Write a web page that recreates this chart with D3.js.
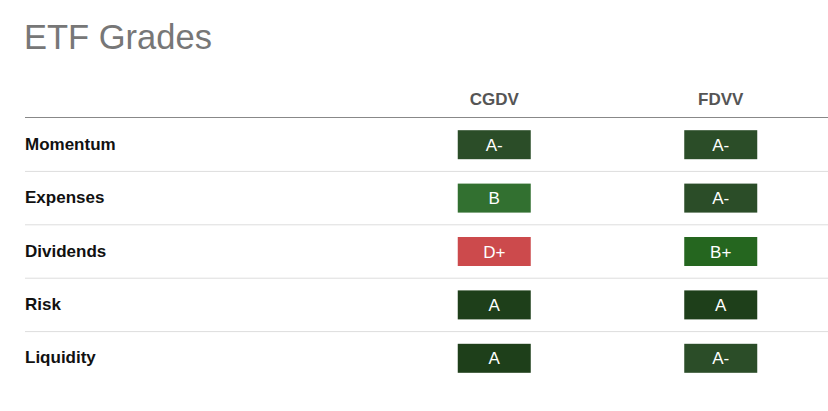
<!DOCTYPE html><html><head><script src="https://cdn.jsdelivr.net/npm/d3@7"></script>
<style>body{margin:0;background:#fff}</style></head><body><svg id="c" width="828" height="411"></svg>
<script>
const rows=["Momentum","Expenses","Dividends","Risk","Liquidity"];
const tickers=["CGDV","FDVV"];
const cgdv=["A-","B","D+","A","A"];
const fdvv=["A-","A-","B+","A","A-"];
const gradeColor={"A":"#1e3f1a","A-":"#2b4d28","B+":"#25661f","B":"#327030","D+":"#cc4a4c"};
const svg=d3.select("#c");
const font="Liberation Sans, Arial, sans-serif";
svg.append("text").attr("x",24).attr("y",49).attr("font-family",font).attr("font-size",34.5).attr("fill","#777").text("ETF Grades");
const x=d3.scaleBand().domain(tickers).range([381,834]);
const y=d3.scaleBand().domain(rows).range([118,385]);
tickers.forEach(t=>svg.append("text").attr("x",x(t)+x.bandwidth()/2).attr("y",105).attr("text-anchor","middle").attr("font-family",font).attr("font-weight","bold").attr("font-size",17).attr("fill","#555").text(t));
svg.append("line").attr("x1",25).attr("x2",828).attr("y1",117.5).attr("y2",117.5).attr("stroke","#888");
rows.forEach((r,i)=>{
  const cy=y(r)+y.bandwidth()/2;
  svg.append("text").attr("x",25).attr("y",cy+5).attr("font-family",font).attr("font-weight","bold").attr("font-size",17).attr("fill","#111").text(r);
  if(i<rows.length-1) svg.append("line").attr("x1",25).attr("x2",828).attr("y1",y(r)+y.bandwidth()).attr("y2",y(r)+y.bandwidth()).attr("stroke","#ddd");
  [[tickers[0],cgdv[i]],[tickers[1],fdvv[i]]].forEach(([t,g])=>{
    const cx=x(t)+x.bandwidth()/2;
    svg.append("rect").attr("x",cx-36.5).attr("y",cy-14.5).attr("width",73).attr("height",29).attr("fill",gradeColor[g]);
    svg.append("text").attr("x",cx).attr("y",cy+6).attr("text-anchor","middle").attr("font-family",font).attr("font-size",17).attr("fill","#fff").text(g);
  });
});
</script></body></html>
